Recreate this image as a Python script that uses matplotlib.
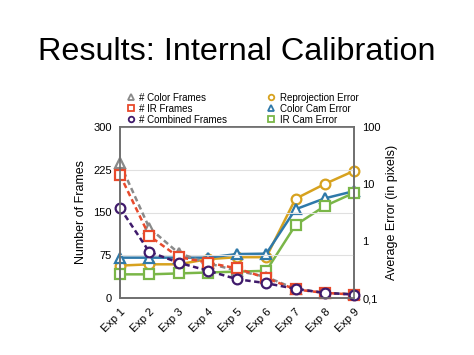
import matplotlib.pyplot as plt

plt.rcParams['font.family'] = ['Liberation Sans', 'DejaVu Sans']

exps = ['Exp 1', 'Exp 2', 'Exp 3', 'Exp 4', 'Exp 5', 'Exp 6', 'Exp 7', 'Exp 8', 'Exp 9']

color_frames = [236, 123, 79, 61, 48, 37, 16, 9, 7]
ir_frames = [216, 109, 72, 62, 52, 35, 15, 9, 6]
combined_frames = [158, 81, 62, 48, 33, 26, 16, 9, 6]

reproj_err = [0.37, 0.39, 0.39, 0.48, 0.52, 0.52, 5.5, 10, 17]
color_cam_err = [0.51, 0.51, 0.51, 0.51, 0.59, 0.60, 3.6, 5.6, 7.5]
ir_cam_err = [0.26, 0.26, 0.27, 0.28, 0.29, 0.30, 1.9, 4.1, 7.0]

x = list(range(len(exps)))

fig = plt.figure(figsize=(4.74, 3.55), dpi=100)
ax = fig.add_axes([120 / 474, 1 - 298 / 355, 234 / 474, 171 / 355])
ax2 = ax.twinx()

spine_col = '#6e6e6e'
mk = dict(markerfacecolor='white', markersize=7, markeredgewidth=1.6, clip_on=False)
dash = (0, (2.2, 1.4))

# errors (right axis, log)
h4, = ax2.plot(x, reproj_err, '-o', color='#d7a21f', lw=1.8, markeredgecolor='#d7a21f', label='Reprojection Error', **mk)
h5, = ax2.plot(x, color_cam_err, '-^', color='#2f79a9', lw=1.8, markeredgecolor='#2f79a9', label='Color Cam Error', **mk)
h6, = ax2.plot(x, ir_cam_err, '-s', color='#7ab648', lw=1.8, markeredgecolor='#7ab648', label='IR Cam Error', **mk)
ax2.set_yscale('log')
ax2.set_ylim(0.1, 100)
ax2.set_yticks([0.1, 1, 10, 100])
ax2.set_yticklabels(['0,1', '1', '10', '100'])
ax2.minorticks_off()
ax2.set_ylabel('Average Error (in pixels)', fontsize=9)

# frames (left axis)
h1, = ax.plot(x, color_frames, marker='^', ls=dash, color='#8a8a8a', lw=1.8, markeredgecolor='#8a8a8a', label='# Color Frames', **mk)
h2, = ax.plot(x, ir_frames, marker='s', ls=dash, color='#e84a2c', lw=1.8, markeredgecolor='#e84a2c', label='# IR Frames', **mk)
h3, = ax.plot(x, combined_frames, marker='o', ls=dash, color='#3f1a6b', lw=1.8, markeredgecolor='#3f1a6b', label='# Combined Frames', **mk)
ax.set_ylim(0, 300)
ax.set_yticks([0, 75, 150, 225, 300])
ax.set_ylabel('Number of Frames', fontsize=9)
ax.yaxis.grid(True, color='#e0e0e0', lw=0.8)
ax.set_axisbelow(True)

ax.set_zorder(ax2.get_zorder() + 1)
ax.patch.set_visible(False)

ax.set_xlim(0, 8)
ax.set_xticks(x)
ax.set_xticklabels(exps, rotation=45, ha='right', rotation_mode='anchor')

for a in (ax, ax2):
    a.tick_params(length=0, labelsize=8, pad=6)
    for s in a.spines.values():
        s.set_color(spine_col)
        s.set_linewidth(1.2)

fig.text(0.5, 1 - 52 / 355, 'Results: Internal Calibration', ha='center', va='center', fontsize=23.3)

leg_mk = dict(markersize=4, markeredgewidth=1.3)
handles = []
for h in [h1, h2, h3, h4, h5, h6]:
    handles.append(plt.Line2D([], [], ls='none', marker=h.get_marker(), color=h.get_color(),
                              markerfacecolor='white', label=h.get_label(), **leg_mk))
fig.legend(handles=handles, ncol=2, loc='upper left', bbox_to_anchor=(118 / 474, 1 - 86 / 355),
           frameon=False, fontsize=7, handletextpad=0.3, labelspacing=0.1, columnspacing=3.9,
           handlelength=1.2, borderpad=0.2)

fig.savefig('out.png', dpi=100)
